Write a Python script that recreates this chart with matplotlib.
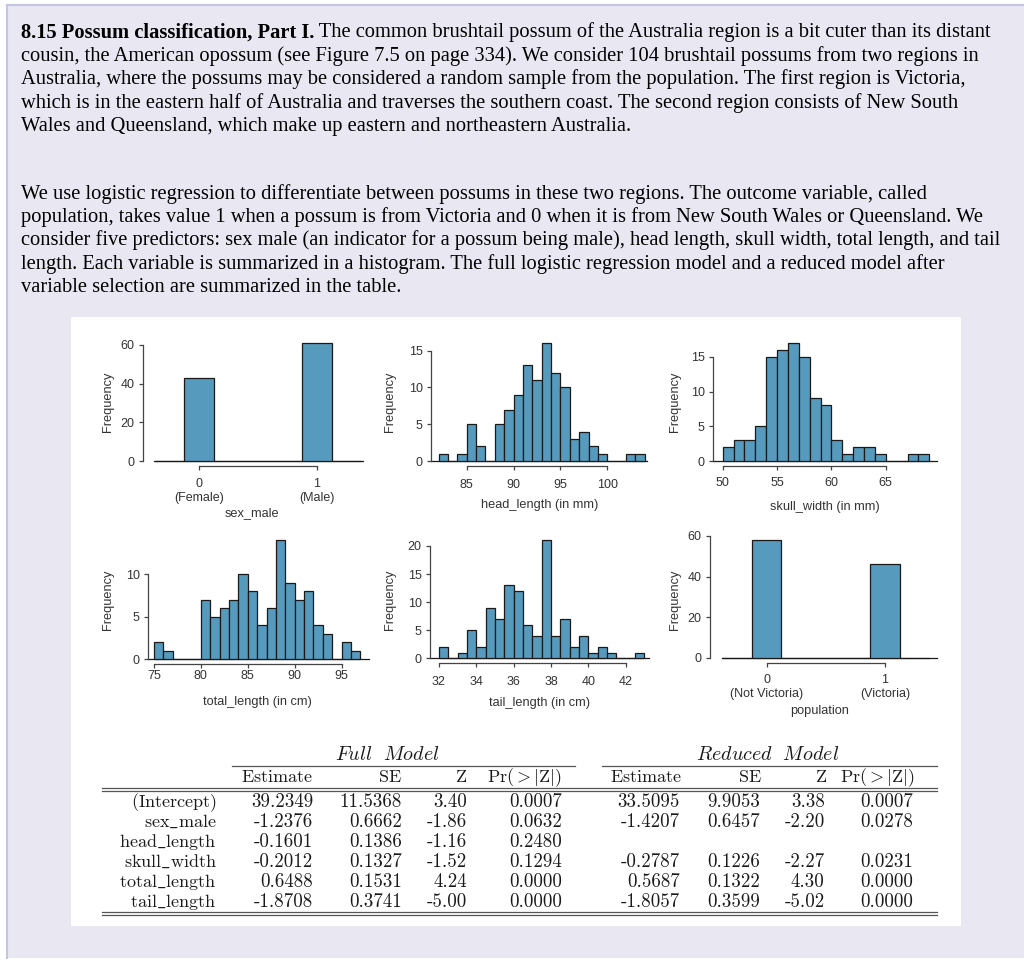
import numpy as np
import matplotlib.pyplot as plt
from matplotlib.patches import Rectangle
from matplotlib.lines import Line2D

plt.rcParams["mathtext.fontset"] = "cm"

W, H = 1024, 964

# ---- histogram data (counts per bin) ----
sex_edges = np.arange(-0.375, 1.376, 0.25)
sex_counts = [0, 43, 0, 0, 0, 61, 0]
head_edges = np.arange(82, 104.5, 1)
head_counts = [1, 0, 1, 5, 2, 0, 5, 7, 9, 13, 11, 16, 12, 10, 3, 4, 2, 1, 0, 0, 1, 1]
skull_edges = np.arange(50, 69.5, 1)
skull_counts = [2, 3, 3, 5, 15, 16, 17, 15, 9, 8, 3, 1, 2, 2, 1, 0, 0, 1, 1]
total_edges = np.arange(75, 97.5, 1)
total_counts = [2, 1, 0, 0, 0, 7, 5, 6, 7, 10, 8, 4, 6, 14, 9, 7, 8, 4, 3, 0, 2, 1]
tail_edges = np.arange(32, 43.1, 0.5)
tail_counts = [2, 0, 1, 5, 2, 9, 7, 13, 12, 6, 4, 21, 4, 7, 2, 4, 1, 2, 1, 0, 0, 1]
pop_edges = np.arange(-0.375, 1.376, 0.25)
pop_counts = [0, 58, 0, 0, 0, 46, 0]

# ---- table data ----
row_names = ["(Intercept)", "sex_male", "head_length", "skull_width", "total_length", "tail_length"]
col_names = ["Estimate", "SE", "Z", "Pr(>|Z|)"]
full_est = [39.2349, -1.2376, -0.1601, -0.2012, 0.6488, -1.8708]
full_se = [11.5368, 0.6662, 0.1386, 0.1327, 0.1531, 0.3741]
full_z = [3.40, -1.86, -1.16, -1.52, 4.24, -5.00]
full_p = [0.0007, 0.0632, 0.2480, 0.1294, 0.0000, 0.0000]
red_est = [33.5095, -1.4207, None, -0.2787, 0.5687, -1.8057]
red_se = [9.9053, 0.6457, None, 0.1226, 0.1322, 0.3599]
red_z = [3.38, -2.20, None, -2.27, 4.30, -5.02]
red_p = [0.0007, 0.0278, None, 0.0231, 0.0000, 0.0000]

para1 = [
    "cousin, the American opossum (see Figure 7.5 on page 334). We consider 104 brushtail possums from two regions in",
    "Australia, where the possums may be considered a random sample from the population. The first region is Victoria,",
    "which is in the eastern half of Australia and traverses the southern coast. The second region consists of New South",
    "Wales and Queensland, which make up eastern and northeastern Australia.",
]
para2 = [
    "We use logistic regression to differentiate between possums in these two regions. The outcome variable, called",
    "population, takes value 1 when a possum is from Victoria and 0 when it is from New South Wales or Queensland. We",
    "consider five predictors: sex male (an indicator for a possum being male), head length, skull width, total length, and tail",
    "length. Each variable is summarized in a histogram. The full logistic regression model and a reduced model after",
    "variable selection are summarized in the table.",
]

BLUE = "#569BBD"
EDGE = "#1a1a1a"
AXC = "#333333"
SERIF = "Liberation Serif"
SANS = "Liberation Sans"


def fx(x):
    return x / W


def fy(y):
    return 1 - y / H


fig = plt.figure(figsize=(W / 100, H / 100), dpi=100)
fig.patch.set_facecolor("white")

# page background
fig.add_artist(Rectangle((fx(7), fy(958)), (W - 7) / W, (958 - 5) / H, transform=fig.transFigure,
                         facecolor="#e9e7f2", edgecolor="none", zorder=0))
fig.add_artist(Line2D([fx(7), fx(7)], [fy(5), fy(958)], color="#c3c6de", lw=1.5, zorder=1))
fig.add_artist(Line2D([fx(7), 1], [fy(5), fy(5)], color="#c3c6de", lw=1.5, zorder=1))
fig.add_artist(Rectangle((fx(71), fy(926)), (961 - 71) / W, (926 - 317) / H, transform=fig.transFigure,
                         facecolor="white", edgecolor="none", zorder=0))

# ---- paragraphs ----
fs = 14.8
r = fig.canvas.get_renderer()
t = fig.text(fx(21), fy(37.5), "8.15 Possum classification, Part I.", fontsize=fs, family=SERIF,
             weight="bold", va="baseline")
bb = t.get_window_extent(r)
fig.text(bb.x1 / W, fy(37.5), " The common brushtail possum of the Australia region is a bit cuter than its distant",
         fontsize=fs, family=SERIF, va="baseline")
for i, line in enumerate(para1):
    fig.text(fx(21), fy(61 + 23.4 * i), line, fontsize=fs, family=SERIF, va="baseline")
for i, line in enumerate(para2):
    fig.text(fx(21), fy(199 + 23.2 * i), line, fontsize=fs, family=SERIF, va="baseline")

# ---- histograms ----
panels = [
    dict(edges=sex_edges, counts=sex_counts, rect=(154, 461, 209, 120), xlim=(-0.381, 1.39), ylim=(0, 62),
         yticks=[0, 20, 40, 60], xticks=[0, 1], xlabels=["0\n(Female)", "1\n(Male)"], yout=11, xpad=5.8,
         xlab="sex_male", xlab_pos=(252, 513), freq_pos=(108, 402)),
    dict(edges=head_edges, counts=head_counts, rect=(431, 461, 216, 121.3), xlim=(81.19, 104.24), ylim=(0, 16.5),
         yticks=[0, 5, 10, 15], xticks=[85, 90, 95, 100], xlabels=None, yout=0, xpad=6.5,
         xlab="head_length (in mm)", xlab_pos=(540, 505), freq_pos=(390, 402)),
    dict(edges=skull_edges, counts=skull_counts, rect=(713, 461, 224, 121.6), xlim=(49.11, 69.71), ylim=(0, 17.5),
         yticks=[0, 5, 10, 15], xticks=[50, 55, 60, 65], xlabels=None, yout=0, xpad=5.0,
         xlab="skull_width (in mm)", xlab_pos=(825, 507), freq_pos=(675, 402)),
    dict(edges=total_edges, counts=total_counts, rect=(148, 659.3, 221, 123.3), xlim=(74.36, 97.92), ylim=(0, 14.5),
         yticks=[0, 5, 10], xticks=[75, 80, 85, 90, 95], xlabels=None, yout=0, xpad=1.0,
         xlab="total_length (in cm)", xlab_pos=(257, 702), freq_pos=(108, 600)),
    dict(edges=tail_edges, counts=tail_counts, rect=(430, 658.3, 219, 120.8), xlim=(31.52, 43.25), ylim=(0, 21.5),
         yticks=[0, 5, 10, 15, 20], xticks=[32, 34, 36, 38, 40, 42], xlabels=None, yout=0, xpad=6.5,
         xlab="tail_length (in cm)", xlab_pos=(540, 703), freq_pos=(390, 600)),
    dict(edges=pop_edges, counts=pop_counts, rect=(722, 657.7, 215, 123.8), xlim=(-0.378, 1.44), ylim=(0, 61),
         yticks=[0, 20, 40, 60], xticks=[0, 1], xlabels=["0\n(Not Victoria)", "1\n(Victoria)"], yout=12, xpad=5.0,
         xlab="population", xlab_pos=(820, 711), freq_pos=(675, 600)),
]

for p in panels:
    l, y0, w, h = p["rect"]
    ax = fig.add_axes([fx(l), fy(y0), w / W, h / H])
    ax.patch.set_alpha(0)
    edges = np.asarray(p["edges"])
    ax.bar(edges[:-1], p["counts"], width=np.diff(edges), align="edge", color=BLUE,
           edgecolor=EDGE, linewidth=0.9, clip_on=False, zorder=3)
    ax.axhline(0, color=EDGE, lw=0.9, zorder=2, clip_on=False)
    ax.set_xlim(p["xlim"])
    ax.set_ylim(p["ylim"])
    for s in ["top", "right"]:
        ax.spines[s].set_visible(False)
    ax.spines["left"].set_bounds(p["yticks"][0], p["yticks"][-1])
    ax.spines["left"].set_position(("outward", p["yout"] * 0.72))
    ax.spines["bottom"].set_bounds(p["xticks"][0], p["xticks"][-1])
    ax.spines["bottom"].set_position(("outward", 5 * 0.72))
    for s in ["left", "bottom"]:
        ax.spines[s].set_color("#444444")
        ax.spines[s].set_linewidth(0.9)
    ax.set_yticks(p["yticks"])
    if p["xlabels"]:
        ax.set_xticks(p["xticks"], labels=p["xlabels"])
    else:
        ax.set_xticks(p["xticks"])
    ax.tick_params(length=3, width=0.9, color="#444444", labelcolor=AXC, labelsize=9)
    ax.tick_params(axis="x", pad=p["xpad"])
    ax.tick_params(axis="y", pad=3)
    for lab in ax.get_xticklabels() + ax.get_yticklabels():
        lab.set_family(SANS)
        lab.set_linespacing(1.25)
    fig.text(fx(p["xlab_pos"][0]), fy(p["xlab_pos"][1]), p["xlab"], fontsize=9.2, family=SANS,
             color=AXC, ha="center", va="center")
    fig.text(fx(p["freq_pos"][0]), fy(p["freq_pos"][1]), "Frequency", fontsize=9.2, family=SANS,
             color=AXC, ha="center", va="center", rotation=90)

# ---- table ----
TF = "cmr10"
rule_c = "#555555"
TXT = "#1a1a1a"


def tx(x, y, s, size, ha="right"):
    fig.text(fx(x), fy(y), s, fontsize=size, family=TF, ha=ha, va="baseline", color=TXT)


def hline(x0, x1, y, lw=0.9):
    fig.add_artist(Line2D([fx(x0), fx(x1)], [fy(y), fy(y)], color=rule_c, lw=lw))


def tex(s):
    return r"$\mathrm{" + s.replace("_", r"\_") + "}$"


tx(387, 759.5, r"$\mathit{Full\ \ Model}$", 14.5, ha="center")
tx(768, 759.5, r"$\mathit{Reduced\ \ Model}$", 14.5, ha="center")
hline(232, 575, 765.7)
hline(602, 937, 765.7)
full_x = [313, 401.7, 466.7, 561.7]
red_x = [681.7, 761.7, 826.7, 915]
head_labels = [tex(c) if c != "Pr(>|Z|)" else r"$\mathrm{Pr}(>|\mathrm{Z}|)$" for c in col_names]
for name, x in zip(head_labels, full_x):
    tx(x, 782, name, 13)
for name, x in zip(head_labels, red_x):
    tx(x, 782, name, 13)
hline(102, 937, 788.3)
hline(102, 937, 790.8)

fmts = ["{:.4f}", "{:.4f}", "{:.2f}", "{:.4f}"]
full_cols = [full_est, full_se, full_z, full_p]
red_cols = [red_est, red_se, red_z, red_p]
for i, name in enumerate(row_names):
    y = 806.8 + 20.1 * i
    tx(216.7, y, tex(name), 13)
    for col, x, f in zip(full_cols, full_x, fmts):
        tx(x, y, f.format(col[i]), 13.6)
    for col, x, f in zip(red_cols, red_x, fmts):
        if col[i] is not None:
            tx(x - 2, y, f.format(col[i]), 13.6)
hline(102, 937, 912)
hline(102, 937, 914.5)

fig.savefig("out.png", dpi=100)
